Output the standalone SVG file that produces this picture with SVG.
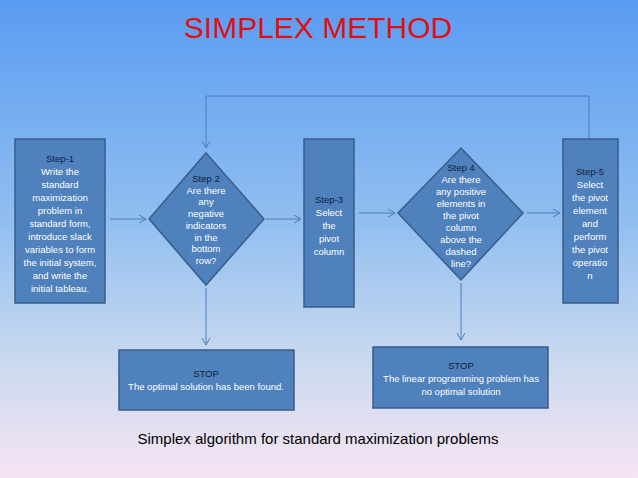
<svg xmlns="http://www.w3.org/2000/svg" width="638" height="478" viewBox="0 0 638 478">
<defs>
<linearGradient id="bg" x1="0" y1="0" x2="0" y2="1">
<stop offset="0" stop-color="#5a9cf2"/><stop offset="0.45" stop-color="#8fbdf0"/><stop offset="0.75" stop-color="#c9d9ef"/><stop offset="1" stop-color="#f6e4f3"/>
</linearGradient>
<marker id="ah" markerWidth="10" markerHeight="10" refX="8" refY="5" orient="auto" markerUnits="userSpaceOnUse">
<path d="M1,1 L8,5 L1,9" fill="none" stroke="#4a7ebb" stroke-width="1"/>
</marker>
<style>
.n{fill:#4f81bd;stroke:#385d8a;stroke-width:1.5}
.t{font-family:"Liberation Sans",Arial,sans-serif;font-size:9.5px;fill:#ffffff;text-anchor:middle}
.h{fill:#10223c}
.s{font-family:"Liberation Sans",Arial,sans-serif;font-size:9.5px;fill:#ffffff;text-anchor:middle}
.c{fill:none;stroke:#4a7ebb;stroke-width:1;marker-end:url(#ah)}
</style>
</defs>
<rect width="638" height="478" fill="url(#bg)"/>
<text x="318" y="38" font-family="Liberation Sans,Arial,sans-serif" font-size="30" fill="#e01010" text-anchor="middle">SIMPLEX METHOD</text>
<g id="connectors">
<line class="c" x1="110" y1="219" x2="146" y2="219"/>
<line class="c" x1="266" y1="219" x2="301" y2="219"/>
<line class="c" x1="359" y1="213" x2="395" y2="213"/>
<line class="c" x1="527" y1="213" x2="560" y2="213"/>
<polyline class="c" points="589,139 589,96 206,96 206,148"/>
<line class="c" x1="206" y1="288" x2="206" y2="345"/>
<line class="c" x1="461" y1="283" x2="461" y2="340"/>
</g>
<g id="step1"><rect class="n" x="15" y="139" width="90" height="164"/>
<text class="t"><tspan class="h" x="60" y="162">Step-1</tspan><tspan x="60" y="175">Write the</tspan><tspan x="60" y="188">standard</tspan><tspan x="60" y="201">maximization</tspan><tspan x="60" y="214">problem in</tspan><tspan x="60" y="227">standard form,</tspan><tspan x="60" y="240">introduce slack</tspan><tspan x="60" y="253">variables to form</tspan><tspan x="60" y="266">the initial system,</tspan><tspan x="60" y="279">and write the</tspan><tspan x="60" y="292">initial tableau.</tspan></text></g>
<g id="step2"><polygon class="n" points="206,153 264,219 206,285 149,219"/>
<text class="t"><tspan class="h" x="206" y="182">Step 2</tspan><tspan x="206" y="194">Are there</tspan><tspan x="206" y="205">any</tspan><tspan x="206" y="217">negative</tspan><tspan x="206" y="229">indicators</tspan><tspan x="206" y="241">in the</tspan><tspan x="206" y="252">bottom</tspan><tspan x="206" y="264">row?</tspan></text></g>
<g id="step3"><rect class="n" x="304" y="139" width="50" height="168"/>
<text class="t"><tspan class="h" x="329" y="203">Step-3</tspan><tspan x="329" y="216">Select</tspan><tspan x="329" y="229">the</tspan><tspan x="329" y="242">pivot</tspan><tspan x="329" y="255">column</tspan></text></g>
<g id="step4"><polygon class="n" points="461,148 523,213 461,280 398,213"/>
<text class="t"><tspan class="h" x="461" y="171">Step 4</tspan><tspan x="461" y="183">Are there</tspan><tspan x="461" y="195">any positive</tspan><tspan x="461" y="207">elements in</tspan><tspan x="461" y="219">the pivot</tspan><tspan x="461" y="231">column</tspan><tspan x="461" y="243">above the</tspan><tspan x="461" y="255">dashed</tspan><tspan x="461" y="267">line?</tspan></text></g>
<g id="step5"><rect class="n" x="563" y="139" width="55" height="164"/>
<text class="t"><tspan class="h" x="590" y="175">Step-5</tspan><tspan x="590" y="188">Select</tspan><tspan x="590" y="201">the pivot</tspan><tspan x="590" y="214">element</tspan><tspan x="590" y="227">and</tspan><tspan x="590" y="240">perform</tspan><tspan x="590" y="253">the pivot</tspan><tspan x="590" y="266">operatio</tspan><tspan x="590" y="279">n</tspan></text></g>
<g id="stop1"><rect class="n" x="119" y="350" width="175" height="60"/>
<text class="s"><tspan class="h" x="206" y="377">STOP</tspan><tspan x="206" y="390">The optimal solution has been found.</tspan></text></g>
<g id="stop2"><rect class="n" x="373" y="347" width="175" height="61"/>
<text class="s"><tspan class="h" x="461" y="369">STOP</tspan><tspan x="461" y="382">The linear programming problem has</tspan><tspan x="461" y="395">no optimal solution</tspan></text></g>
<text x="318" y="444" font-family="Liberation Sans,Arial,sans-serif" font-size="15" fill="#000" text-anchor="middle">Simplex algorithm for standard maximization problems</text>
</svg>
